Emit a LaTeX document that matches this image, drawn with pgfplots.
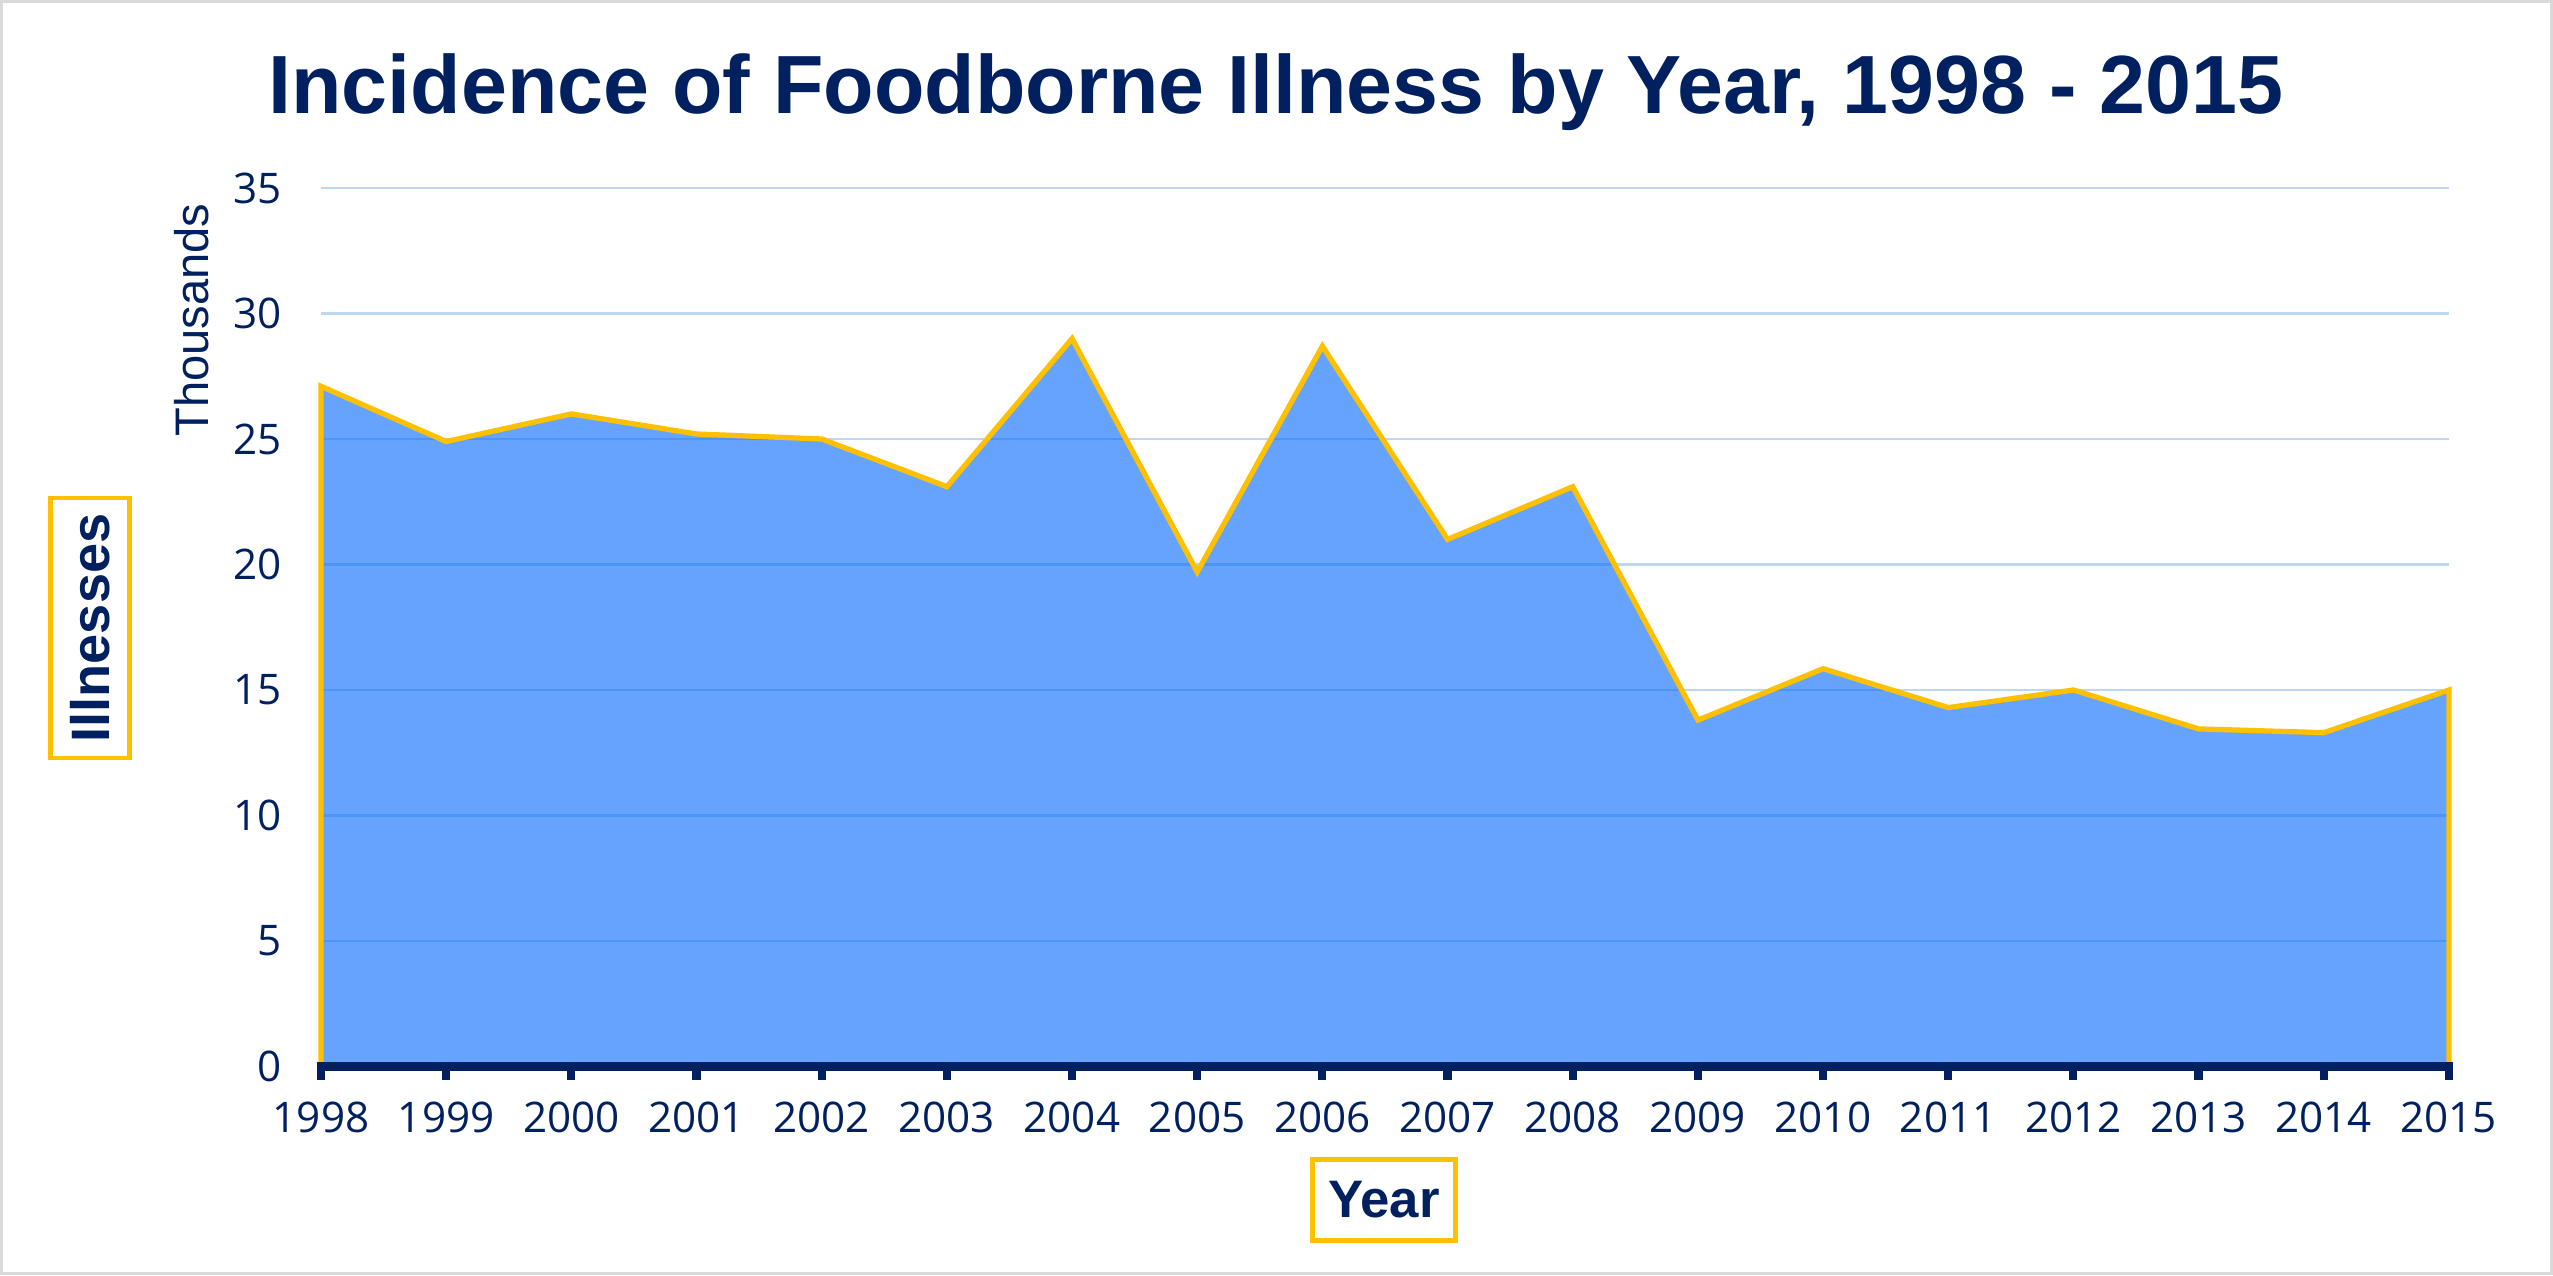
\documentclass[border=0pt]{standalone}
\usepackage{fontspec}
\setmainfont{Liberation Sans}
\newfontfamily\tickfont{Open Sans}
\usepackage{pgfplots}
\pgfplotsset{compat=1.18}

\definecolor{navy}{RGB}{0, 32, 96}
\definecolor{gold}{RGB}{255, 192, 0}
\definecolor{gridblue}{RGB}{189, 215, 238}
\definecolor{areablue}{RGB}{8, 107, 255}
\definecolor{framegray}{RGB}{217, 217, 217}

\begin{document}
\begin{tikzpicture}
  % page frame, 1px = 0.01cm
  \useasboundingbox (0,0) rectangle (25.53cm,12.75cm);
  \draw[framegray, line width=0.85pt] (0.015cm,0.015cm) rectangle (25.515cm,12.735cm);

  \begin{axis}[
    at={(3.21cm,2.085cm)}, anchor=south west,
    scale only axis,
    width=21.28cm, height=8.785cm,
    xmin=1998, xmax=2015,
    ymin=0, ymax=35,
    enlargelimits=false,
    clip=false,
    axis line style={draw=none},
    xtick={1998,1999,...,2015},
    ytick={0,5,...,35},
    /pgf/number format/1000 sep={},
    /pgf/number format/assume math mode=true,
    ticklabel style={font=\tickfont\fontsize{12}{14}\selectfont, text=navy},
    xtick pos=bottom,
    xtick align=outside,
    major tick length=0.13cm,
    xtick style={navy, line width=2.3pt},
    ytick style={draw=none},
    xticklabel style={anchor=north, inner sep=0pt, yshift=-0.22cm},
    yticklabel style={anchor=east, inner sep=0pt, xshift=-0.39cm},
    ymajorgrids,
    grid style={gridblue, line width=0.8pt},
  ]
    % illnesses per year, thousands
    \addplot[draw=gold, line width=1.5pt, fill=areablue, fill opacity=0.62]
      coordinates {
        (1998,0) (1998,27.1) (1999,24.9) (2000,26.0) (2001,25.2) (2002,25.0)
        (2003,23.1) (2004,29.0) (2005,19.7) (2006,28.7) (2007,21.0)
        (2008,23.1) (2009,13.8) (2010,15.85) (2011,14.3) (2012,15.0)
        (2013,13.45) (2014,13.3) (2015,15.0) (2015,0)
      };

    \draw[navy, line width=2.3pt, line cap=rect] (axis cs:1998,0) -- (axis cs:2015,0);
  \end{axis}

  \node[font=\bfseries\fontsize{23.5}{26}\selectfont, text=navy, anchor=base]
    at (12.76cm,11.61cm) {Incidence of Foodborne Illness by Year, 1998 - 2015};

  \node[font=\fontsize{13.4}{15}\selectfont, text=navy, rotate=90]
    at (1.92cm,9.55cm) {Thousands};

  \node[font=\bfseries\fontsize{15.4}{17}\selectfont, text=navy, rotate=90,
        draw=gold, line width=1.15pt, inner sep=0pt,
        minimum width=2.6cm, minimum height=0.79cm]
    at (0.90cm,6.47cm) {Illnesses};

  \node[font=\bfseries\fontsize{15}{17}\selectfont, text=navy,
        draw=gold, line width=1.15pt, inner sep=0pt,
        minimum width=1.43cm, minimum height=0.81cm]
    at (13.84cm,0.75cm) {Year};
\end{tikzpicture}
\end{document}
